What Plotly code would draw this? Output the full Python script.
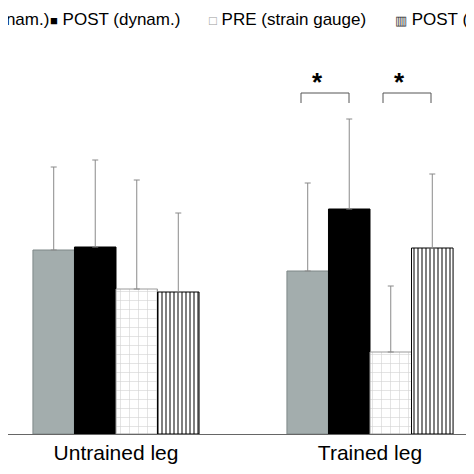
import plotly.graph_objects as go

legs = ["Untrained leg", "Trained leg"]
series = ["PRE (dynam.)", "POST (dynam.)", "PRE (strain gauge)", "POST (strain gauge)"]
means = {
    "PRE (dynam.)": [184, 163],
    "POST (dynam.)": [187, 225],
    "PRE (strain gauge)": [145, 82],
    "POST (strain gauge)": [142, 186],
}
sds = {
    "PRE (dynam.)": [83, 88],
    "POST (dynam.)": [87, 90],
    "PRE (strain gauge)": [109, 66],
    "POST (strain gauge)": [79, 74],
}
styles = {
    "PRE (dynam.)": dict(color="#a3adad", line=dict(color="#7f8888", width=1)),
    "POST (dynam.)": dict(color="black", line=dict(color="black", width=1)),
    "PRE (strain gauge)": dict(color="white", line=dict(color="#9a9a9a", width=1),
                               pattern=dict(shape="+", fgcolor="#a0a0a0", bgcolor="white",
                                            size=9, solidity=0.12)),
    "POST (strain gauge)": dict(color="white", line=dict(color="black", width=1),
                                pattern=dict(shape="|", fgcolor="black", bgcolor="white",
                                             size=4, solidity=0.5)),
}
# legend entries drawn as text (the legend runs off the left/right of the image)
legend_syms = {"PRE (dynam.)": ("■", "#a3adad"), "POST (dynam.)": ("■", "black"),
               "PRE (strain gauge)": ("□", "#999"), "POST (strain gauge)": ("▥", "#333")}
legend_left = {"PRE (dynam.)": -80, "POST (dynam.)": 40,
               "PRE (strain gauge)": 199, "POST (strain gauge)": 385}

fig = go.Figure()
for s in series:
    fig.add_trace(go.Bar(
        x=[0, 1], y=means[s], name=s, marker=styles[s],
        error_y=dict(type="data", array=sds[s], arrayminus=[0, 0],
                     color="#8a8a8a", thickness=1, width=3),
    ))
    sym, col = legend_syms[s]
    fig.add_annotation(x=legend_left[s] / 474, xref="paper", xanchor="left",
                       y=1.0, yref="paper", yanchor="top", showarrow=False,
                       text=f"<span style='color:{col};font-size:13px'>{sym}</span> {s}",
                       font=dict(size=17, color="black", family="Liberation Sans"))

# significance brackets (pixel -> paper x)
for x0, x1 in [(293, 341), (375, 423)]:
    fig.add_shape(type="path", xref="paper", yref="y",
                  path=f"M {x0/474},331 L {x0/474},341 L {x1/474},341 L {x1/474},331",
                  line=dict(color="#555", width=1))
    fig.add_annotation(x=(x0 + x1) / 2 / 474, xref="paper", y=352, yref="y",
                       text="<b>*</b>", showarrow=False,
                       font=dict(size=26, color="black", family="Liberation Sans"))

fig.update_layout(
    width=474, height=474, barmode="group", bargap=0.346, bargroupgap=0,
    margin=dict(l=0, r=0, t=0, b=48),
    plot_bgcolor="white", paper_bgcolor="white",
    font=dict(family="Liberation Sans", color="black"),
    showlegend=False,
    xaxis=dict(range=[-108 / 254, 366 / 254], tickvals=[0, 1], ticktext=legs,
               tickfont=dict(size=21), showline=True, linecolor="#666",
               ticks="", showgrid=False, zeroline=False, automargin=False),
    yaxis=dict(range=[0, 426], visible=False),
)

fig.write_html("out.html")
